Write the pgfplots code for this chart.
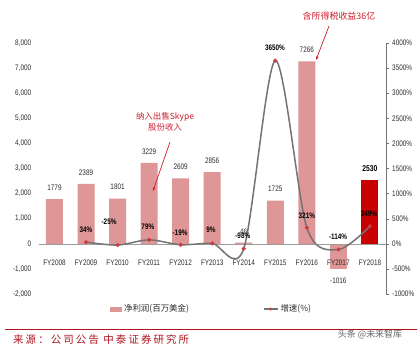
\documentclass[border=0pt]{standalone}
\usepackage{fontspec}
\setmainfont{Liberation Sans}[FakeStretch=0.8]
\newfontfamily\cjk{Noto Sans CJK SC}
\newfontfamily\cjksp{Noto Sans CJK SC}[LetterSpace=20]
\usepackage{pgfplots}
\pgfplotsset{compat=1.18}
\usetikzlibrary{arrows.meta}
\definecolor{barpink}{RGB}{222,150,150}
\definecolor{bardark}{RGB}{200,0,0}
\definecolor{annred}{RGB}{205,30,45}
\definecolor{linegray}{RGB}{115,115,115}
\definecolor{markred}{RGB}{205,60,60}
\definecolor{txt}{RGB}{45,45,45}
\definecolor{srcred}{RGB}{175,20,30}
\begin{document}
\begin{tikzpicture}
\path[use as bounding box, fill=white] (0,0) rectangle (417bp,351bp);
\begin{axis}[
  at={(38.7bp,57bp)}, anchor=south west, scale only axis,
  width=347bp, height=251bp,
  xmin=-0.5, xmax=10.5, ymin=-2000, ymax=8000,
  axis on top,
  axis x line*=middle, axis y line*=left,
  x axis line style={draw=linegray!70, -}, y axis line style={draw=none},
  xtick={0,...,10},
  xticklabels={FY2008,FY2009,FY2010,FY2011,FY2012,FY2013,FY2014,FY2015,FY2016,FY2017,FY2018},
  xtick style={draw=none}, ytick style={draw=none},
  ytick={-2000,-1000,...,8000},
  yticklabel style={xshift=-4bp},
  xticklabel style={yshift=-8bp},
  /pgf/number format/1000 sep={,},
  /pgf/number format/assume math mode=true,
  tick label style={font=\fontsize{8}{9}\selectfont, text=txt},
  ybar, bar width=0.54,
  legend style={draw=none, fill=none, at={(0.498,-0.06)}, anchor=center,
    font=\cjk\fontsize{8.5}{9}\selectfont, text=txt, legend columns=2,
    /tikz/every even column/.append style={column sep=72bp}},
  legend cell align=left,
]
\addplot[fill=barpink, draw=none, bar shift=0pt,
  legend image code/.code={\fill[barpink] (0bp,-2.5bp) rectangle (12bp,2.5bp);},
  nodes near coords={\pgfmathprintnumber[1000 sep={}]{\pgfplotspointmeta}},
  nodes near coords style={font=\fontsize{8}{9}\selectfont, text=txt, yshift=5bp}]
  coordinates {(0,1779) (1,2389) (2,1801) (3,3229) (4,2609) (5,2856) (6,46) (7,1725) (8,7266)};
\addlegendentry{净利润(百万美金)}
\addlegendimage{legend image code/.code={\draw[linegray, line width=1.5pt] (0bp,0bp) -- (14bp,0bp); \fill[markred] (7bp,0bp) circle (1.2bp);}}
\addlegendentry{增速(\%)}
\addplot[fill=barpink, draw=none, bar shift=0pt, forget plot,
  nodes near coords={\pgfmathprintnumber[1000 sep={}]{\pgfplotspointmeta}},
  nodes near coords style={font=\fontsize{8}{9}\selectfont, text=txt, yshift=-5bp}]
  coordinates {(9,-1016)};
\addplot[fill=bardark, draw=none, bar shift=0pt, forget plot,
  nodes near coords={\pgfmathprintnumber[1000 sep={}]{\pgfplotspointmeta}},
  nodes near coords style={font=\bfseries\fontsize{8.5}{9}\selectfont, text=black, yshift=5bp}]
  coordinates {(10,2530)};
\end{axis}
\begin{axis}[
  at={(38.7bp,57bp)}, anchor=south west, scale only axis,
  width=347bp, height=251bp,
  xmin=-0.5, xmax=10.5, ymin=-1000, ymax=4000,
  axis x line=none, axis y line*=right,
  y axis line style={draw=linegray, -},
  ytick={-1000,-500,...,4000},
  tick align=outside, major tick length=3bp,
  ytick style={draw=linegray},
  /pgf/number format/assume math mode=true,
  yticklabel={\pgfmathprintnumber[1000 sep={}]{\tick}\%},
  tick label style={font=\fontsize{8}{9}\selectfont, text=txt},
  clip=false,
]
\addplot[linegray, line width=1.5pt, smooth, mark=*, mark size=1.2bp,
  mark options={fill=markred, draw=markred}]
  coordinates {(1,34) (2,-25) (3,79) (4,-19) (5,9) (6,-98) (7,3650) (8,321) (9,-114) (10,349)};
\begin{scope}[every node/.style={font=\bfseries\fontsize{8}{9}\selectfont, text=black, inner sep=0pt}]
\node at (axis cs:1,280) {34\%};
\node at (axis cs:1.73,440) {-25\%};
\node at (axis cs:2.96,340) {79\%};
\node at (axis cs:3.98,220) {-19\%};
\node at (axis cs:4.96,280) {9\%};
\node at (axis cs:5.97,170) {-98\%};
\node at (axis cs:6.99,3900) {3650\%};
\node at (axis cs:8,560) {321\%};
\node at (axis cs:8.99,140) {-114\%};
\node at (axis cs:9.97,600) {349\%};
\end{scope}
\end{axis}
% annotations
\node[font=\cjk\fontsize{8.5}{11}\selectfont, text=annred, align=center] at (165bp,229.5bp) {纳入出售Skype\\股份收入};
\draw[annred, line width=0.7pt, -{Stealth[length=4bp,width=3bp]}] (170bp,209bp) -- (153bp,160bp);
\node[font=\cjk\fontsize{9}{10}\selectfont, text=annred] at (339bp,335bp) {含所得税收益36亿};
\draw[annred, line width=0.7pt, -{Stealth[length=4bp,width=3bp]}] (329bp,325bp) -- (316bp,291bp);
\draw[srcred, line width=1bp] (5bp,21bp) -- (417bp,21bp);
\node[font=\cjksp\fontsize{10.5}{11}\selectfont, text=srcred, anchor=west, inner sep=0pt] at (13bp,11bp) {来源：公司公告 中泰证券研究所};
\node[font=\cjk\fontsize{9}{10}\selectfont, text=black!60] at (370bp,17bp) {头条 @未来智库};
\end{tikzpicture}
\end{document}
